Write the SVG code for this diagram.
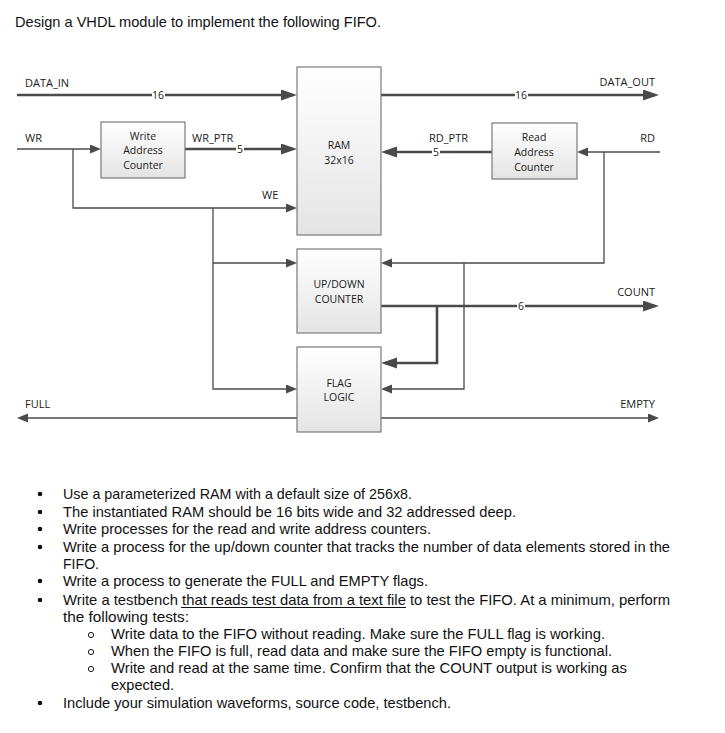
<svg xmlns="http://www.w3.org/2000/svg" width="725" height="733" viewBox="0 0 725 733">
<style>
.lbl{font-family:"Open Sans","Noto Sans",sans-serif;font-size:11px;fill:#1a1a1a}
.box{fill:url(#g);stroke:#7a7a7a;stroke-width:1.2}
.thin{fill:none;stroke:#4a4a4a;stroke-width:1.3}
.thick{fill:none;stroke:#4a4a4a;stroke-width:2.6}
.num{font-family:"Open Sans","Noto Sans",sans-serif;font-size:10.5px;fill:#1a1a1a;text-anchor:middle}
.body{font-family:"Liberation Sans",Arial,sans-serif;font-size:15px;fill:#111}
.dot{fill:#111}
.circ{fill:none;stroke:#111;stroke-width:1}
</style>
<defs>
<linearGradient id="g" x1="0" y1="0" x2="0" y2="1">
<stop offset="0" stop-color="#ffffff"/>
<stop offset="1" stop-color="#e4e4e4"/>
</linearGradient>
<marker id="at" markerUnits="userSpaceOnUse" markerWidth="12" markerHeight="10" refX="8" refY="4.5" orient="auto">
<path d="M0,0 L11,4.5 L0,9 z" fill="#4a4a4a"/>
</marker>
<marker id="ak" markerUnits="userSpaceOnUse" markerWidth="18" markerHeight="12" refX="12" refY="5.5" orient="auto">
<path d="M0,0 L16,5.5 L0,11 z" fill="#4a4a4a"/>
</marker>
</defs>
<rect width="725" height="733" fill="#fff"/>
<text class="body" x="15" y="27" style="font-size:14.5px" textLength="366" lengthAdjust="spacingAndGlyphs">Design a VHDL module to implement the following FIFO.</text>

<g id="connectors">
<path class="thick" d="M17,95 L293,95" marker-end="url(#ak)"/>
<path class="thick" d="M381,95 L655,95" marker-end="url(#ak)"/>
<path class="thin" d="M17,149 L98,149" marker-end="url(#at)"/>
<path class="thick" d="M185,149 L293,149" marker-end="url(#ak)"/>
<path class="thin" d="M73,149 L73,208 L294,208" marker-end="url(#at)"/>
<path class="thin" d="M213,208 L213,389 L294,389" marker-end="url(#at)"/>
<path class="thin" d="M213,263 L294,263" marker-end="url(#at)"/>
<path class="thick" d="M492,152 L385,152" marker-end="url(#ak)"/>
<path class="thin" d="M660,152 L580,152" marker-end="url(#at)"/>
<path class="thin" d="M604,152 L604,263 L384,263" marker-end="url(#at)"/>
<path class="thin" d="M464,263 L464,389 L384,389" marker-end="url(#at)"/>
<path class="thick" d="M381,306 L655,306" marker-end="url(#ak)"/>
<path class="thick" d="M437,306 L437,363 L385,363" marker-end="url(#ak)"/>
<path class="thin" d="M381,418 L656,418" marker-end="url(#at)"/>
<path class="thin" d="M297,418 L20,418" marker-end="url(#at)"/>
<rect x="152" y="89" width="13" height="11" fill="#fff"/>
<text class="num" x="158" y="99">16</text>
<rect x="515" y="89" width="13" height="11" fill="#fff"/>
<text class="num" x="521" y="99">16</text>
<rect x="236" y="143" width="8" height="11" fill="#fff"/>
<text class="num" x="240" y="153">5</text>
<rect x="432" y="146" width="8" height="11" fill="#fff"/>
<text class="num" x="436" y="156">5</text>
<rect x="517" y="300" width="8" height="11" fill="#fff"/>
<text class="num" x="521" y="310">6</text>
</g>

<g id="ram">
<rect class="box" x="297" y="67" width="84" height="168"/>
<text class="num" x="339" y="149">RAM</text>
<text class="num" x="339" y="164">32x16</text>
</g>
<g id="write-counter">
<rect class="box" x="101" y="122" width="84" height="56"/>
<text class="num" x="143" y="139.5">Write</text>
<text class="num" x="143" y="154">Address</text>
<text class="num" x="143" y="168.5">Counter</text>
</g>
<g id="read-counter">
<rect class="box" x="492" y="123" width="85" height="56"/>
<text class="num" x="534" y="140.5">Read</text>
<text class="num" x="534" y="155.5">Address</text>
<text class="num" x="534" y="170.5">Counter</text>
</g>
<g id="updown-counter">
<rect class="box" x="297" y="249" width="84" height="84"/>
<text class="num" x="339" y="288">UP/DOWN</text>
<text class="num" x="339" y="303">COUNTER</text>
</g>
<g id="flag-logic">
<rect class="box" x="297" y="347" width="84" height="85"/>
<text class="num" x="339" y="386.5">FLAG</text>
<text class="num" x="339" y="401">LOGIC</text>
</g>

<g id="labels">
<text class="lbl" x="25" y="87">DATA_IN</text>
<text class="lbl" x="25" y="142">WR</text>
<text class="lbl" x="192" y="142">WR_PTR</text>
<text class="lbl" x="262" y="199">WE</text>
<text class="lbl" x="429" y="142">RD_PTR</text>
<text class="lbl" x="655" y="86" text-anchor="end">DATA_OUT</text>
<text class="lbl" x="655" y="142" text-anchor="end">RD</text>
<text class="lbl" x="655" y="296" text-anchor="end">COUNT</text>
<text class="lbl" x="655" y="408" text-anchor="end">EMPTY</text>
<text class="lbl" x="25" y="408">FULL</text>
</g>

<g id="text">
<circle class="dot" cx="40" cy="494" r="2.3"/>
<text class="body" x="63" y="499" textLength="349" lengthAdjust="spacingAndGlyphs">Use a parameterized RAM with a default size of 256x8.</text>
<circle class="dot" cx="40" cy="512" r="2.3"/>
<text class="body" x="63" y="517" textLength="453" lengthAdjust="spacingAndGlyphs">The instantiated RAM should be 16 bits wide and 32 addressed deep.</text>
<circle class="dot" cx="40" cy="529" r="2.3"/>
<text class="body" x="63" y="534" textLength="368" lengthAdjust="spacingAndGlyphs">Write processes for the read and write address counters.</text>
<circle class="dot" cx="40" cy="547" r="2.3"/>
<text class="body" x="63" y="552" textLength="607" lengthAdjust="spacingAndGlyphs">Write a process for the up/down counter that tracks the number of data elements stored in the</text>
<text class="body" x="63" y="569" textLength="36" lengthAdjust="spacingAndGlyphs">FIFO.</text>
<circle class="dot" cx="40" cy="581" r="2.3"/>
<text class="body" x="63" y="586" textLength="365" lengthAdjust="spacingAndGlyphs">Write a process to generate the FULL and EMPTY flags.</text>
<circle class="dot" cx="40" cy="600" r="2.3"/>
<text class="body" x="63" y="605" textLength="607" lengthAdjust="spacingAndGlyphs">Write a testbench that reads test data from a text file to test the FIFO.  At a minimum, perform</text>
<line x1="181" y1="607.5" x2="406" y2="607.5" stroke="#111" stroke-width="1"/>
<text class="body" x="63" y="622" textLength="126" lengthAdjust="spacingAndGlyphs">the following tests:</text>
<circle class="circ" cx="91" cy="635" r="2.6"/>
<text class="body" x="111" y="639" textLength="494" lengthAdjust="spacingAndGlyphs">Write data to the FIFO without reading.  Make sure the FULL flag is working.</text>
<circle class="circ" cx="91" cy="652" r="2.6"/>
<text class="body" x="111" y="656" textLength="501" lengthAdjust="spacingAndGlyphs">When the FIFO is full, read data and make sure the FIFO empty is functional.</text>
<circle class="circ" cx="91" cy="669" r="2.6"/>
<text class="body" x="111" y="673" textLength="516" lengthAdjust="spacingAndGlyphs">Write and read at the same time.  Confirm that the COUNT output is working as</text>
<text class="body" x="111" y="690" textLength="63" lengthAdjust="spacingAndGlyphs">expected.</text>
<circle class="dot" cx="40" cy="703" r="2.3"/>
<text class="body" x="63" y="708" textLength="388" lengthAdjust="spacingAndGlyphs">Include your simulation waveforms, source code, testbench.</text>
</g>
</svg>
